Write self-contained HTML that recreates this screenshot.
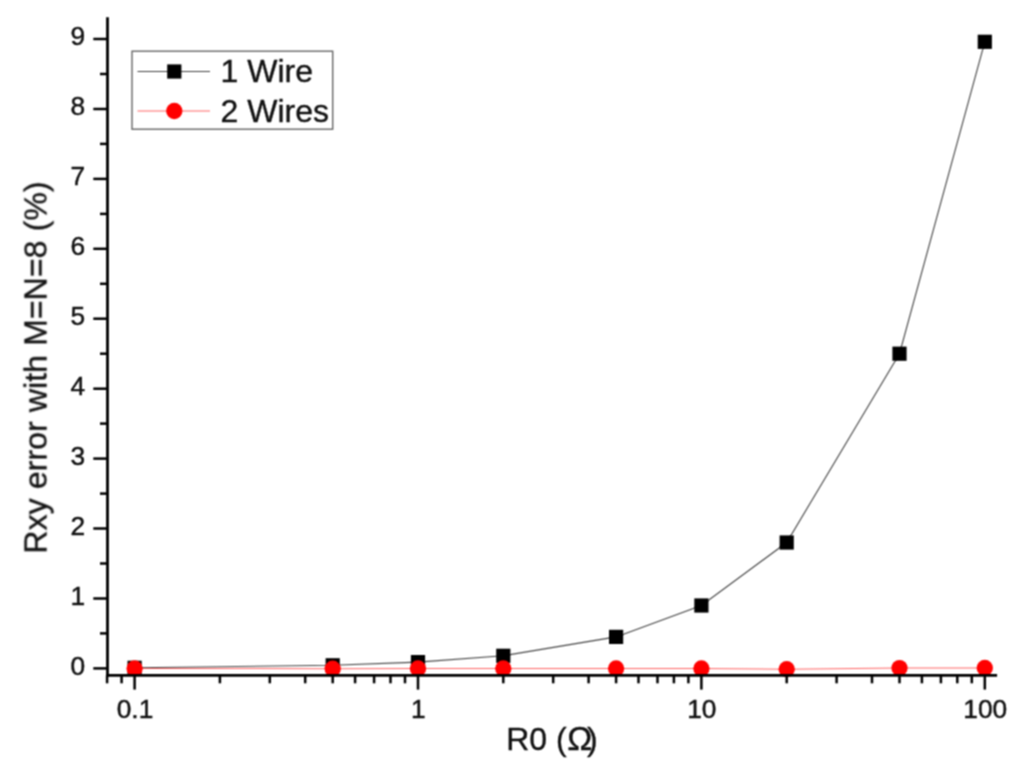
<!DOCTYPE html>
<html><head><meta charset="utf-8"><title>Rxy error</title>
<style>
html,body{margin:0;padding:0;background:#fff;}
svg{display:block;}
text{font-family:"Liberation Sans",Arial,sans-serif;fill:#111;stroke:#111;stroke-width:0.35px;}
.t{font-size:26.3px;stroke-width:0.45px;}
</style></head><body>
<svg width="1024" height="772" viewBox="0 0 1024 772">
<defs><filter id="b" x="-2%" y="-2%" width="104%" height="104%" color-interpolation-filters="sRGB"><feConvolveMatrix order="3" kernelMatrix="1 2 1 2 4 2 1 2 1" divisor="16" edgeMode="none" preserveAlpha="false"/></filter><filter id="b2" x="-2%" y="-2%" width="104%" height="104%" color-interpolation-filters="sRGB"><feGaussianBlur stdDeviation="0.85"/></filter></defs>
<rect width="1024" height="772" fill="#fff"/>
<g filter="url(#b)">
<polyline points="134.6,667.8 332.7,665.3 418.0,662.1 503.3,655.8 616.1,636.9 701.4,605.5 786.7,542.5 899.5,353.7 984.8,41.8" fill="none" stroke="#444" stroke-width="1.1"/>
<polyline points="134.6,668.4 332.7,668.7 418.0,668.4 503.3,668.4 616.1,668.4 701.4,668.5 786.7,669.2 899.5,668.1 984.8,668.0" fill="none" stroke="#f66" stroke-width="1.05"/>
</g>
<g filter="url(#b)">
<rect x="127.5" y="660.7" width="14.2" height="14.2" fill="#000"/>
<rect x="325.6" y="658.2" width="14.2" height="14.2" fill="#000"/>
<rect x="410.9" y="655.0" width="14.2" height="14.2" fill="#000"/>
<rect x="496.2" y="648.7" width="14.2" height="14.2" fill="#000"/>
<rect x="609.0" y="629.8" width="14.2" height="14.2" fill="#000"/>
<rect x="694.3" y="598.4" width="14.2" height="14.2" fill="#000"/>
<rect x="779.6" y="535.4" width="14.2" height="14.2" fill="#000"/>
<rect x="892.4" y="346.6" width="14.2" height="14.2" fill="#000"/>
<rect x="977.7" y="34.7" width="14.2" height="14.2" fill="#000"/>
<circle cx="134.6" cy="668.4" r="8.15" fill="#ff0000"/>
<circle cx="332.7" cy="668.7" r="8.15" fill="#ff0000"/>
<circle cx="418.0" cy="668.4" r="8.15" fill="#ff0000"/>
<circle cx="503.3" cy="668.4" r="8.15" fill="#ff0000"/>
<circle cx="616.1" cy="668.4" r="8.15" fill="#ff0000"/>
<circle cx="701.4" cy="668.5" r="8.15" fill="#ff0000"/>
<circle cx="786.7" cy="669.2" r="8.15" fill="#ff0000"/>
<circle cx="899.5" cy="668.1" r="8.15" fill="#ff0000"/>
<circle cx="984.8" cy="668.0" r="8.15" fill="#ff0000"/>
<g stroke="#000" stroke-width="2.8" fill="none">
<line x1="107.5" y1="17.2" x2="107.5" y2="676.8"/>
<line x1="106.1" y1="675.4" x2="997.1" y2="675.4"/>
</g>
<g stroke="#000" stroke-width="2.5" fill="none">
<line x1="93.3" y1="668.4" x2="107.5" y2="668.4"/>
<line x1="100" y1="633.4" x2="107.5" y2="633.4"/>
<line x1="93.3" y1="598.5" x2="107.5" y2="598.5"/>
<line x1="100" y1="563.5" x2="107.5" y2="563.5"/>
<line x1="93.3" y1="528.5" x2="107.5" y2="528.5"/>
<line x1="100" y1="493.6" x2="107.5" y2="493.6"/>
<line x1="93.3" y1="458.6" x2="107.5" y2="458.6"/>
<line x1="100" y1="423.6" x2="107.5" y2="423.6"/>
<line x1="93.3" y1="388.7" x2="107.5" y2="388.7"/>
<line x1="100" y1="353.7" x2="107.5" y2="353.7"/>
<line x1="93.3" y1="318.7" x2="107.5" y2="318.7"/>
<line x1="100" y1="283.8" x2="107.5" y2="283.8"/>
<line x1="93.3" y1="248.8" x2="107.5" y2="248.8"/>
<line x1="100" y1="213.9" x2="107.5" y2="213.9"/>
<line x1="93.3" y1="178.9" x2="107.5" y2="178.9"/>
<line x1="100" y1="143.9" x2="107.5" y2="143.9"/>
<line x1="93.3" y1="109.0" x2="107.5" y2="109.0"/>
<line x1="100" y1="74.0" x2="107.5" y2="74.0"/>
<line x1="93.3" y1="39.0" x2="107.5" y2="39.0"/>
<line x1="107.1" y1="675.4" x2="107.1" y2="683.3"/>
<line x1="121.6" y1="675.4" x2="121.6" y2="683.3"/>
<line x1="134.6" y1="675.4" x2="134.6" y2="689.6"/>
<line x1="219.9" y1="675.4" x2="219.9" y2="683.3"/>
<line x1="269.8" y1="675.4" x2="269.8" y2="683.3"/>
<line x1="305.2" y1="675.4" x2="305.2" y2="683.3"/>
<line x1="332.7" y1="675.4" x2="332.7" y2="683.3"/>
<line x1="355.1" y1="675.4" x2="355.1" y2="683.3"/>
<line x1="374.1" y1="675.4" x2="374.1" y2="683.3"/>
<line x1="390.5" y1="675.4" x2="390.5" y2="683.3"/>
<line x1="405.0" y1="675.4" x2="405.0" y2="683.3"/>
<line x1="418.0" y1="675.4" x2="418.0" y2="689.6"/>
<line x1="503.3" y1="675.4" x2="503.3" y2="683.3"/>
<line x1="553.2" y1="675.4" x2="553.2" y2="683.3"/>
<line x1="588.6" y1="675.4" x2="588.6" y2="683.3"/>
<line x1="616.1" y1="675.4" x2="616.1" y2="683.3"/>
<line x1="638.5" y1="675.4" x2="638.5" y2="683.3"/>
<line x1="657.5" y1="675.4" x2="657.5" y2="683.3"/>
<line x1="673.9" y1="675.4" x2="673.9" y2="683.3"/>
<line x1="688.4" y1="675.4" x2="688.4" y2="683.3"/>
<line x1="701.4" y1="675.4" x2="701.4" y2="689.6"/>
<line x1="786.7" y1="675.4" x2="786.7" y2="683.3"/>
<line x1="836.6" y1="675.4" x2="836.6" y2="683.3"/>
<line x1="872.0" y1="675.4" x2="872.0" y2="683.3"/>
<line x1="899.5" y1="675.4" x2="899.5" y2="683.3"/>
<line x1="921.9" y1="675.4" x2="921.9" y2="683.3"/>
<line x1="940.9" y1="675.4" x2="940.9" y2="683.3"/>
<line x1="957.3" y1="675.4" x2="957.3" y2="683.3"/>
<line x1="971.8" y1="675.4" x2="971.8" y2="683.3"/>
<line x1="984.8" y1="675.4" x2="984.8" y2="689.6"/>
</g>
<rect x="132" y="51.2" width="200.7" height="78" fill="#fff" stroke="#606060" stroke-width="1.35"/>
<line x1="137.5" y1="71.5" x2="210" y2="71.5" stroke="#444" stroke-width="1.1"/>
<rect x="167.2" y="64.4" width="14.2" height="14.2" fill="#000"/>
<line x1="137.5" y1="111" x2="210" y2="111" stroke="#f66" stroke-width="1.05"/>
<circle cx="174.3" cy="111" r="8.15" fill="#ff0000"/>
<text x="220.5" y="81.7" font-size="32">1 Wire</text>
<text x="220.5" y="121.7" font-size="32">2 Wires</text>
<text x="77.7" y="674.6" class="t" text-anchor="middle">0</text>
<text x="77.7" y="604.7" class="t" text-anchor="middle">1</text>
<text x="77.7" y="534.7" class="t" text-anchor="middle">2</text>
<text x="77.7" y="464.8" class="t" text-anchor="middle">3</text>
<text x="77.7" y="394.9" class="t" text-anchor="middle">4</text>
<text x="77.7" y="324.9" class="t" text-anchor="middle">5</text>
<text x="77.7" y="255.0" class="t" text-anchor="middle">6</text>
<text x="77.7" y="185.1" class="t" text-anchor="middle">7</text>
<text x="77.7" y="115.2" class="t" text-anchor="middle">8</text>
<text x="77.7" y="45.2" class="t" text-anchor="middle">9</text>
<text x="135.0" y="718.3" class="t" text-anchor="middle">0.1</text>
<text x="418.4" y="718.3" class="t" text-anchor="middle">1</text>
<text x="701.8" y="718.3" class="t" text-anchor="middle">10</text>
<text x="985.2" y="718.3" class="t" text-anchor="middle">100</text>
<text x="506.2" y="749.8" font-size="32">R0 (<tspan dx="0.6" font-size="33.5">Ω</tspan><tspan dx="-5.3">)</tspan></text>
<text transform="translate(46.5,553.6) rotate(-90)" font-size="32" letter-spacing="0.1">Rxy error with M=N=8 (%)</text>
</g>
</svg></body></html>
